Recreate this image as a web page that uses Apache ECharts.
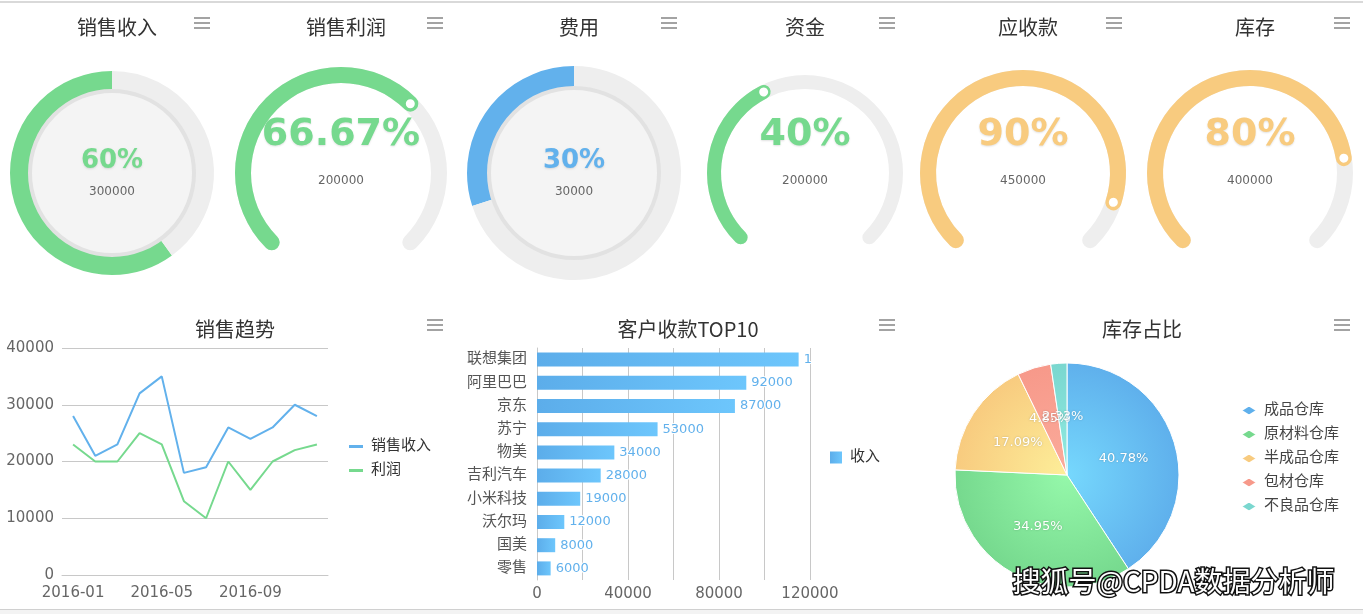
<!DOCTYPE html>
<html>
<head>
<meta charset="utf-8">
<title>dashboard</title>
<script src="https://cdn.jsdelivr.net/npm/echarts@6/dist/echarts.min.js"></script>
<style>
    html, body { margin: 0; padding: 0; background: #fff; }
    #main { width: 1363px; height: 614px; }
</style>
</head>
<body>
<div id="main"></div>
<script type="text/javascript">
    // 顶部六个指标
    var gaugeNames = ['销售收入', '销售利润', '费用', '资金', '应收款', '库存'];
    var gaugePct = [60, 66.67, 30, 40, 90, 80];
    var gaugeAmt = [300000, 200000, 30000, 200000, 450000, 400000];

    // 销售趋势
    var months = ['2016-01', '2016-02', '2016-03', '2016-04', '2016-05', '2016-06',
                  '2016-07', '2016-08', '2016-09', '2016-10', '2016-11', '2016-12'];
    var salesIncome = [28000, 21000, 23000, 32000, 35000, 18000, 19000, 26000, 24000, 26000, 30000, 28000];
    var salesProfit = [23000, 20000, 20000, 25000, 23000, 13000, 10000, 20000, 15000, 20000, 22000, 23000];

    // 客户收款TOP10
    var customers = ['联想集团', '阿里巴巴', '京东', '苏宁', '物美', '吉利汽车', '小米科技', '沃尔玛', '国美', '零售'];
    var customerPay = [115000, 92000, 87000, 53000, 34000, 28000, 19000, 12000, 8000, 6000];

    // 库存占比
    var stockNames = ['成品仓库', '原材料仓库', '半成品仓库', '包材仓库', '不良品仓库'];
    var stockShare = [40.78, 34.95, 17.09, 4.85, 2.33];

    var GREEN = '#76d98e', BLUE = '#62b1ec', ORANGE = '#f8cb7f';
    var FONT = "'DejaVu Sans', 'Noto Sans CJK SC', sans-serif";
    var CJK = "'Noto Sans CJK SC', sans-serif";

    // 每个小图的位置和样式
    var gaugeLayout = [
        {type: 'ring', cx: 112, cy: 173, r: 102, inner: 82, color: GREEN, titleX: 117},
        {type: 'arc', cx: 341, cy: 173, r: 106, w: 16, color: GREEN, titleX: 346},
        {type: 'ring', cx: 574, cy: 173, r: 107, inner: 85, color: BLUE, titleX: 579},
        {type: 'arc', cx: 805, cy: 173, r: 98, w: 14, color: GREEN, titleX: 805},
        {type: 'arc', cx: 1023, cy: 173, r: 103, w: 16, color: ORANGE, titleX: 1028},
        {type: 'arc', cx: 1250, cy: 173, r: 103, w: 16, color: ORANGE, titleX: 1255}
    ];
    var stockColors = [
        ['#76d8fd', '#5fb0ec'],
        ['#95f8aa', '#76d98e'],
        ['#fdee99', '#f8cb7f'],
        ['#fbab9b', '#f7998a'],
        ['#90ebe2', '#7ad7cf']
    ];
    var menuIcons = [[194, 17], [427, 17], [661, 17], [879, 17], [1106, 17], [1334, 17],
                     [427, 319], [879, 319], [1334, 319]];

    var titles = [];
    var series = [];

    gaugeNames.forEach(function (name, i) {
        var g = gaugeLayout[i];
        titles.push({
            text: name, left: g.titleX, top: 17, textAlign: 'center', padding: 0,
            textStyle: {fontSize: 20, fontWeight: 'normal', color: '#333', fontFamily: CJK}
        });
        if (g.type === 'ring') {
            series.push({
                type: 'pie', silent: true, center: [g.cx, g.cy], radius: [g.inner, g.r],
                startAngle: 90, clockwise: false, label: {show: false},
                data: [
                    {value: gaugePct[i], itemStyle: {color: g.color}},
                    {value: 100 - gaugePct[i], itemStyle: {color: '#eeeeee'}}
                ]
            });
            series.push({
                type: 'pie', silent: true, center: [g.cx, g.cy], radius: [0, g.inner],
                itemStyle: {color: '#f4f4f4', borderColor: '#e2e2e2', borderWidth: 4},
                label: {
                    show: true, position: 'center', offset: [0, 2],
                    formatter: '{p|' + gaugePct[i] + '%}\n{v|' + gaugeAmt[i] + '}',
                    rich: {
                        p: {fontSize: 26, fontWeight: 'bold', color: g.color, lineHeight: 34, fontFamily: FONT,
                            textShadowColor: 'rgba(0,0,0,0.12)', textShadowBlur: 2, textShadowOffsetY: 1},
                        v: {fontSize: 12, color: '#666', lineHeight: 28, fontFamily: FONT}
                    }
                },
                data: [{value: 1}]
            });
        } else {
            var rc = g.r - g.w / 2;
            var common = {
                type: 'gauge', center: [g.cx, g.cy], radius: g.r,
                startAngle: 225, endAngle: -45, min: 0, max: 100,
                axisTick: {show: false}, splitLine: {show: false}, axisLabel: {show: false},
                anchor: {show: false}
            };
            series.push(Object.assign({}, common, {
                z: 2,
                axisLine: {roundCap: true, lineStyle: {width: g.w, color: [[1, '#eeeeee']]}},
                progress: {show: true, width: g.w, roundCap: true, itemStyle: {color: g.color}},
                pointer: {show: false},
                title: {offsetCenter: [0, 8], fontSize: 12, color: '#666', fontFamily: FONT},
                detail: {
                    offsetCenter: [0, -38], fontSize: 38, fontWeight: 'bold', color: g.color,
                    fontFamily: FONT, formatter: '{value}%',
                    textShadowColor: 'rgba(0,0,0,0.12)', textShadowBlur: 2, textShadowOffsetY: 1
                },
                data: [{value: gaugePct[i], name: String(gaugeAmt[i])}]
            }));
            // 进度末端的小圆点
            series.push(Object.assign({}, common, {
                z: 4,
                axisLine: {show: false},
                progress: {show: false},
                pointer: {
                    show: true, icon: 'circle', width: 11, length: 11,
                    offsetCenter: [0, -rc + 5.5],
                    itemStyle: {color: '#fff', borderColor: g.color, borderWidth: 2}
                },
                title: {show: false},
                detail: {show: false},
                data: [{value: gaugePct[i]}]
            }));
        }
    });

    titles.push(
        {text: '销售趋势', left: 235, top: 319, textAlign: 'center', padding: 0,
         textStyle: {fontSize: 20, fontWeight: 'normal', color: '#333', fontFamily: CJK}},
        {text: '客户收款TOP10', left: 688, top: 319, textAlign: 'center', padding: 0,
         textStyle: {fontSize: 20, fontWeight: 'normal', color: '#333', fontFamily: CJK}},
        {text: '库存占比', left: 1142, top: 319, textAlign: 'center', padding: 0,
         textStyle: {fontSize: 20, fontWeight: 'normal', color: '#333', fontFamily: CJK}}
    );

    series.push(
        {name: '销售收入', type: 'line', xAxisIndex: 0, yAxisIndex: 0, data: salesIncome,
         showSymbol: false, lineStyle: {width: 2, color: BLUE}, itemStyle: {color: BLUE}},
        {name: '利润', type: 'line', xAxisIndex: 0, yAxisIndex: 0, data: salesProfit,
         showSymbol: false, lineStyle: {width: 2, color: GREEN}, itemStyle: {color: GREEN}}
    );

    series.push({
        name: '收入', type: 'bar', xAxisIndex: 1, yAxisIndex: 1, barWidth: 14,
        itemStyle: {
            color: {type: 'linear', x: 0, y: 0, x2: 1, y2: 0,
                    colorStops: [{offset: 0, color: '#5cadea'}, {offset: 1, color: '#6dc6fc'}]}
        },
        label: {
            show: true, position: 'right', distance: 5, fontSize: 13, color: BLUE, fontFamily: FONT,
            textBorderColor: '#fff', textBorderWidth: 2
        },
        data: customerPay.map(function (v, i) {
            // 第一条的标签超出绘图区被截断
            return i === 0 ? {value: v, label: {width: 10, overflow: 'truncate', ellipsis: ''}} : v;
        })
    });

    series.push({
        name: '库存占比', type: 'pie', center: [1067, 475], radius: [0, 112],
        startAngle: 90, clockwise: true, avoidLabelOverlap: false, minShowLabelAngle: 0,
        itemStyle: {borderColor: '#fff', borderWidth: 1},
        label: {
            show: true, position: 'inside', formatter: '{d}%', color: '#fff', fontSize: 13,
            overflow: 'none', fontFamily: FONT,
            textShadowColor: 'rgba(0,0,0,0.25)', textShadowBlur: 2
        },
        labelLayout: {hideOverlap: false},
        labelLine: {show: false},
        data: stockNames.map(function (n, i) {
            return {
                name: n, value: stockShare[i],
                itemStyle: {color: {type: 'radial', x: 1067, y: 475, r: 112, global: true,
                    colorStops: [{offset: 0, color: stockColors[i][0]}, {offset: 1, color: stockColors[i][1]}]}}
            };
        })
    });

    var graphics = [
        {type: 'rect', left: 0, top: 1, shape: {width: 1363, height: 2}, style: {fill: '#d9d9d9'}, silent: true},
        {type: 'rect', left: 0, top: 609, shape: {width: 1363, height: 5}, style: {fill: '#f3f3f3'}, silent: true},
        {type: 'rect', left: 0, top: 609, shape: {width: 1363, height: 1}, style: {fill: '#d0d0d0'}, silent: true}
    ];
    menuIcons.forEach(function (p) {
        [0, 5, 10].forEach(function (dy) {
            graphics.push({type: 'rect', left: p[0], top: p[1] + dy,
                           shape: {width: 16, height: 2}, style: {fill: '#a3a3a3'}, silent: true});
        });
    });
    // 水印压在饼图上面
    graphics.push({
        type: 'text', left: 1011, top: 566, z: 100, silent: true,
        style: {text: '搜狐号@CPDA数据分析师', font: '28px ' + CJK, fill: '#fff',
                stroke: '#111', lineWidth: 3, strokeFirst: true}
    });

    var legendText = {fontSize: 15, color: '#333', fontFamily: FONT, padding: [0, 0, 0, 3]};
    var chart = echarts.init(document.getElementById('main'));
    var option = {
        animation: false,
        textStyle: {fontFamily: FONT},
        title: titles,
        legend: [
            {orient: 'vertical', left: 349, top: 439, padding: 0, itemGap: 9, itemWidth: 14, itemHeight: 3,
             icon: 'rect', data: ['销售收入', '利润'], selectedMode: false, textStyle: legendText},
            {orient: 'vertical', left: 830, top: 450, padding: 0, itemWidth: 12, itemHeight: 12,
             icon: 'rect', data: ['收入'], selectedMode: false, textStyle: legendText},
            {orient: 'vertical', left: 1240, top: 403, padding: 0, itemGap: 9, itemWidth: 16, itemHeight: 10,
             icon: 'path://M0,5L8,0L16,5L8,10Z', data: stockNames, selectedMode: false,
             textStyle: {fontSize: 15, color: '#444', fontFamily: FONT, padding: [0, 0, 0, 2]}}
        ],
        grid: [
            {left: 62, top: 348, width: 266, height: 227},
            {left: 537, top: 348, width: 273, height: 232}
        ],
        xAxis: [
            {
                type: 'category', gridIndex: 0, data: months, boundaryGap: true,
                axisLine: {lineStyle: {color: '#c8c8c8'}},
                axisTick: {interval: 0, length: 5, lineStyle: {color: '#c8c8c8'}},
                axisLabel: {interval: 3, fontSize: 15, color: '#666', margin: 11}
            },
            {
                type: 'value', gridIndex: 1, min: 0, max: 120000, interval: 20000,
                axisLine: {show: false}, axisTick: {show: false},
                splitLine: {lineStyle: {color: '#c8c8c8'}},
                axisLabel: {fontSize: 15, color: '#666', margin: 7,
                    formatter: function (v) { return v % 40000 === 0 ? String(v) : ''; }}
            }
        ],
        yAxis: [
            {
                type: 'value', gridIndex: 0, min: 0, max: 40000, interval: 10000,
                axisLine: {show: false}, axisTick: {show: false},
                splitLine: {lineStyle: {color: '#c8c8c8'}},
                axisLabel: {fontSize: 15, color: '#666', margin: 8,
                    formatter: function (v) { return String(v); }}
            },
            {
                type: 'category', gridIndex: 1, data: customers, inverse: true,
                axisLine: {lineStyle: {color: '#c8c8c8'}},
                axisTick: {length: 5, lineStyle: {color: '#c8c8c8'}},
                axisLabel: {fontSize: 15, color: '#555', margin: 10}
            }
        ],
        graphic: graphics,
        series: series
    };
    chart.setOption(option);
</script>
</body>
</html>
